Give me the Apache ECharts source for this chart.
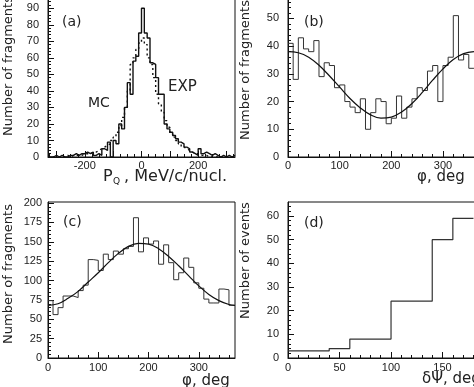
<!DOCTYPE html>
<html><head><meta charset="utf-8">
<script src="https://cdn.jsdelivr.net/npm/echarts@6/dist/echarts.min.js"></script>
<style>html,body{margin:0;padding:0;background:#fff}#c{width:474px;height:387px}</style>
</head><body><div id="c"></div>
<script>
// ---------------- data ----------------
// (a) P_Q distribution, 10 MeV/c bins from -330
const aBinStart = -330;
const aBinWidth = 10;
const aExp = [
  0,0,1,0,1,0,0,1,1,2,
  1,2,2,3,2,3,1,2,1,5,
  4,9,0,10,8,20,17,30,45,38,
  58,61,75,90,75,72,57,56,48,38,
  38,20,17,15,13,11,9,8,6,5,
  3,2,1,5,2,3,2,1,2,1,
  0,1,0,1,0,1
];
const aMc = [
  0,0,0,0,0,0,1,0,1,1,
  1,1,2,2,2,3,3,4,5,6,
  7,8,10,12,15,19,24,30,40,56,
  60,65,69,72,68,60,56,48,38,32,
  27,22,18,14,12,10,8,6,5,4,
  3,2,2,1,1,1,0,0,0,0,
  0,0,0,0,0,0
];
const aXTickLabels = [-200, 0, 200];
const aYTickLabels = [0, 10, 20, 30, 40, 50, 60, 70, 80, 90];

// (b) phi distribution, 10 deg bins
const bBinWidth = 10;
const bCounts = [41,28,43,39,38,42,29,34,33,25,26,20,18,16,21,10,16,21,20,12,
                 14,22,14,18,21,25,24,31,33,20,33,36,51,35,37,32];
const bFitPhi = [0,20,40,60,80,100,120,140,160,180,200,220,240,260,280,300,320,340,360];
const bFitVal = [38,37.6,36,33.1,29.3,25.2,21.1,17.7,15.2,14,14.4,16.2,19.3,23.3,27.7,31.8,35.2,37.3,38];
const bXTickLabels = [0, 100, 200, 300];
const bYTickLabels = [0, 10, 20, 30, 40, 50];

// (c) phi distribution, 10 deg bins
const cBinWidth = 10;
const cCounts = [74,56,65,80,80,78,87,94,127,126,
                 113,134,127,138,134,141,144,181,137,155,
                 147,151,121,146,123,101,110,129,117,97,
                 90,76,71,71,89,88,68];
const cFitPhi = [0,20,40,60,80,100,120,140,160,180,200,220,240,260,280,300,320,340,360,372];
const cFitVal = [68,70,77,86,98,110,123,135,144,148,147,141,131,119,106,93,82,74,69,68];
const cXTickLabels = [0, 100, 200, 300];
const cYTickLabels = [0, 25, 50, 75, 100, 125, 150, 175, 200];

// (d) delta Psi distribution
const dEdges = [0, 40, 60, 100, 140, 160, 180];
const dCounts = [3, 4, 8, 24, 50, 59];
const dXTickLabels = [0, 50, 100, 150];
const dYTickLabels = [0, 10, 20, 30, 40, 50, 60];

// ---------------- helpers ----------------
function range(a, b, s) { const r = []; for (let v = a; v <= b + 1e-9; v += s) r.push(+v.toFixed(6)); return r; }
function hist(start, width, vals) {
  const p = vals.map((v, i) => [start + i * width, v]);
  p.push([start + vals.length * width, vals[vals.length - 1]]);
  return p;
}
function histEdges(edges, vals) {
  const p = vals.map((v, i) => [edges[i], v]);
  p.push([edges[edges.length - 1], vals[vals.length - 1]]);
  return p;
}
function pairs(xs, ys) { return xs.map((x, i) => [x, ys[i]]); }

const INK = '#111';
const TXT = '#222';
const NUMFONT = 'Liberation Sans, Arial, sans-serif';
const TFONT = 'DejaVu Sans, sans-serif';

const panels = [
  { left: 48, top: -1, width: 187, height: 158, xr: [-330, 330], yr: [0, 95.6],
    xl: aXTickLabels, xM: range(-300, 300, 100), xm: range(-325, 325, 25),
    yl: aYTickLabels, yM: range(0, 90, 10), ym: range(0, 94, 2), xMargin: 3, yMargin: 9 },
  { left: 288, top: -1, width: 187, height: 158, xr: [0, 362], yr: [0, 57],
    xl: bXTickLabels, xM: range(0, 300, 100), xm: range(0, 360, 20),
    yl: bYTickLabels, yM: range(0, 50, 10), ym: range(0, 56, 2), xMargin: 3, yMargin: 9 },
  { left: 48, top: 202, width: 187, height: 156, xr: [0, 372], yr: [0, 201.3],
    xl: cXTickLabels, xM: range(0, 300, 100), xm: range(0, 360, 20),
    yl: cYTickLabels, yM: range(0, 200, 25), ym: range(0, 200, 5), xMargin: 4, yMargin: 6 },
  { left: 288, top: 202, width: 187, height: 156, xr: [0, 181.5], yr: [0, 65.9],
    xl: dXTickLabels, xM: range(0, 150, 50), xm: range(0, 180, 10),
    yl: dYTickLabels, yM: range(0, 60, 10), ym: range(0, 64, 2), xMargin: 4, yMargin: 9 }
];

const grid = [], xAxis = [], yAxis = [];
panels.forEach((p, i) => {
  grid.push({ left: p.left, top: p.top, width: p.width, height: p.height, show: true,
    borderColor: INK, borderWidth: 1, backgroundColor: 'transparent', containLabel: false, outerBoundsMode: 'none' });
  const lbl = (m) => ({ color: TXT, fontFamily: NUMFONT, fontSize: 11, margin: m });
  xAxis.push({ gridIndex: i, type: 'value', position: 'bottom', min: p.xr[0], max: p.xr[1],
    axisLine: { show: true, onZero: false, lineStyle: { color: INK, width: 1 } },
    axisTick: { show: true, inside: true, length: 6, customValues: p.xM, lineStyle: { color: INK } },
    axisLabel: Object.assign(lbl(p.xMargin), { customValues: p.xl }),
    splitLine: { show: false } });
  xAxis.push({ gridIndex: i, type: 'value', position: 'bottom', min: p.xr[0], max: p.xr[1],
    axisLine: { show: false, onZero: false },
    axisTick: { show: true, inside: true, length: 3, customValues: p.xm, lineStyle: { color: INK } },
    axisLabel: { show: false }, splitLine: { show: false } });
  yAxis.push({ gridIndex: i, type: 'value', position: 'left', min: p.yr[0], max: p.yr[1],
    axisLine: { show: true, onZero: false, lineStyle: { color: INK, width: 1 } },
    axisTick: { show: true, inside: true, length: 6, customValues: p.yM, lineStyle: { color: INK } },
    axisLabel: Object.assign(lbl(p.yMargin), { customValues: p.yl }),
    splitLine: { show: false } });
  yAxis.push({ gridIndex: i, type: 'value', position: 'left', min: p.yr[0], max: p.yr[1],
    axisLine: { show: false, onZero: false },
    axisTick: { show: true, inside: true, length: 3, customValues: p.ym, lineStyle: { color: INK } },
    axisLabel: { show: false }, splitLine: { show: false } });
});

function stepSeries(i, data, extra) {
  return Object.assign({ type: 'line', xAxisIndex: 2 * i, yAxisIndex: 2 * i, step: 'end', data: data,
    showSymbol: false, symbol: 'none', lineStyle: { color: INK, width: 1.2 }, silent: true }, extra || {});
}
function fitSeries(i, data) {
  return { type: 'line', xAxisIndex: 2 * i, yAxisIndex: 2 * i, data: data, smooth: 0.4,
    showSymbol: false, symbol: 'none', lineStyle: { color: INK, width: 1.2 }, silent: true };
}

const series = [
  stepSeries(0, hist(aBinStart, aBinWidth, aExp), { lineStyle: { color: INK, width: 1.4 } }),
  stepSeries(0, hist(aBinStart, aBinWidth, aMc), { lineStyle: { color: INK, width: 1.4, type: [2, 3] } }),
  stepSeries(1, hist(0, bBinWidth, bCounts), { lineStyle: { color: '#333', width: 1 } }),
  fitSeries(1, pairs(bFitPhi, bFitVal)),
  stepSeries(2, hist(0, cBinWidth, cCounts), { lineStyle: { color: '#333', width: 1 } }),
  fitSeries(2, pairs(cFitPhi, cFitVal)),
  stepSeries(3, histEdges(dEdges, dCounts), { lineStyle: { color: '#333', width: 1.2 } })
];

function txt(x, y, s, size) {
  return { type: 'text', x: x, y: y, silent: true,
    style: { text: s, fill: TXT, font: size + 'px ' + TFONT, align: 'left', verticalAlign: 'middle' } };
}
function vtxt(x, y, s, size) {
  return { type: 'text', x: x, y: y, rotation: Math.PI / 2, silent: true,
    style: { text: s, fill: TXT, font: size + 'px ' + TFONT, align: 'left', verticalAlign: 'middle' } };
}

const graphic = [
  txt(62, 22, '(a)', 14),
  txt(88, 103, 'MC', 14),
  txt(168, 87, 'EXP', 15),
  txt(304, 22, '(b)', 14),
  txt(63, 222, '(c)', 14),
  txt(304, 223, '(d)', 14),
  // x titles
  txt(103, 176.5, 'P', 16),
  txt(113, 181.5, 'Q', 9),
  txt(119, 176.5, ' , MeV/c/nucl.', 16),
  txt(417, 177.5, 'φ, deg', 15),
  txt(182, 381.5, 'φ, deg', 15),
  txt(422, 379, 'δΨ, deg', 15),
  // y titles
  vtxt(8.5, 136, 'Number of fragments', 13),
  vtxt(246, 140, 'Number of fragments', 13),
  vtxt(8.5, 344, 'Number of fragments', 13),
  vtxt(246, 319, 'Number of events', 13)
];

const chart = echarts.init(document.getElementById('c'), null, { renderer: 'canvas' });
chart.setOption({ animation: false, backgroundColor: '#fff', grid, xAxis, yAxis, series, graphic });
</script></body></html>
